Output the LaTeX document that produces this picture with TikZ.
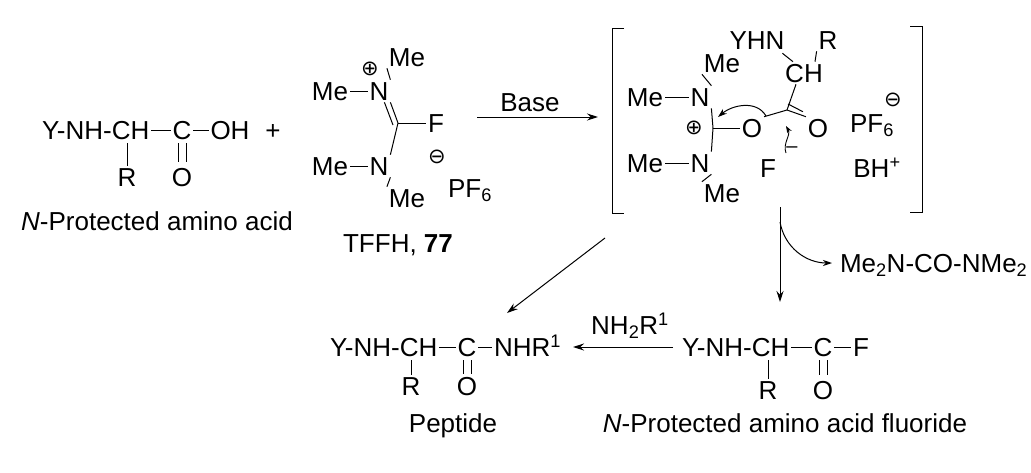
\documentclass[tikz,border=0pt]{standalone}
\usepackage{fontspec}
\setmainfont{Liberation Sans}
\newfontfamily\djv{DejaVu Sans}
\usetikzlibrary{arrows.meta}
\newcommand{\chg}[1]{{\djv\fontsize{21}{21}\selectfont #1}}
\begin{document}
\begin{tikzpicture}[x=1pt,y=-1pt,
  t/.style={inner sep=1.5pt,text height=18.6pt,text depth=0pt,font=\fontsize{26}{28}\selectfont},
  s/.style={inner sep=0pt},
  bd/.style={line width=1pt},
  ar/.style={line width=1pt,-{Stealth[length=11pt,width=7pt]}},
  sa/.style={line width=1pt,-{Stealth[length=9pt,width=6pt]}},
  line width=1pt]
\useasboundingbox (0,0) rectangle (1031,472);
% amino acid
\node[t,anchor=west] (aa) at (40,130) {Y-NH-CH};
\node[t] (aaC) at (182,130) {C};
\node[t] (aaOH) at (230,130) {OH};
\node[t] (aaR) at (127,177) {R};
\node[t] (aaO) at (182,177) {O};
\draw[bd] (aa.east) -- (aaC.west);
\draw[bd] (aaC.east) -- (aaOH.west);
\draw[bd] (127,143) -- (aaR.north);
\draw[bd] (178,143) -- (178,162) (186,143) -- (186,162);
\node[t] (plus) at (273,130) {+};
\node[t] (lab1) at (157,221) {\itshape N\upshape-Protected amino acid};
% TFFH
\node[t] (tN1) at (379,91) {N};
\node[t] (tMe1) at (330,91) {Me};
\node[t] (tMe2) at (407,57) {Me};
\node[s] (tplus) at (370,69) {\chg{⊕}};
\node[t] (tF) at (436,123) {F};
\node[t] (tN2) at (379,166) {N};
\node[t] (tMe3) at (330,166) {Me};
\node[t] (tMe4) at (407,198) {Me};
\coordinate (tC) at (398,123);
\draw[bd] (tMe1.east) -- (tN1.west);
\draw[bd] (tN1.north east) -- (tMe2.south west);
\draw[bd] (tN1.south east) -- (tC);
\draw[bd] ([xshift=-6pt]tN1.south east) -- ([xshift=-5pt,yshift=-2pt]tC);
\draw[bd] (tC) -- (tF.west);
\draw[bd] (tC) -- (tN2.north east);
\draw[bd] (tMe3.east) -- (tN2.west);
\draw[bd] (tN2.south east) -- (tMe4.north west);
\node[s] (tminus) at (437,157) {\chg{⊖}};
\node[t] (tPF) at (470,188) {PF\textsubscript{6}};
\node[t] (tname) at (398,243) {TFFH, \textbf{77}};
% Base arrow
\coordinate (a1s) at (477,117);
\coordinate (a1e) at (598,117);
\draw[ar] (a1s) -- (a1e);
\node[t] (base) at (530,102) {Base};
% brackets
\draw[bd] (624,28) -- (612,28) -- (612,213) -- (624,213);
\draw[bd] (910,26) -- (922,26) -- (922,212) -- (910,212);
% intermediate
\node[t] (iYHN) at (757,40) {YHN};
\node[t] (iR) at (828,40) {R};
\node[t] (iCH) at (804,73) {CH};
\node[t] (iMe1) at (722,63) {Me};
\node[t] (iMe2) at (645,97) {Me};
\node[t] (iN1) at (700,97) {N};
\node[s] (ip) at (694,128) {\chg{⊕}};
\coordinate (iC) at (713,128);
\node[t] (iO) at (752,128) {O};
\coordinate (iCc) at (787,110);
\node[t] (iO2) at (818,128) {O};
\node[t] (iF) at (768,168) {F};
\node[s] (iFm) at (792,150) {\fontsize{20}{20}\selectfont –};
\node[t] (iN2) at (700,163) {N};
\node[t] (iMe3) at (645,163) {Me};
\node[t] (iMe4) at (722,193) {Me};
\draw[bd] (iMe2.east) -- (iN1.west);
\draw[bd] (iN1.north east) -- (iMe1.south west);
\draw[bd] (iN1.south east) -- (iC);
\draw[bd] (iC) -- (iO.west);
\draw[bd] (iC) -- (iN2.north east);
\draw[bd] (iMe3.east) -- (iN2.west);
\draw[bd] (iN2.south east) -- (iMe4.north west);
\draw[bd] (iO.north east) -- (iCc);
\draw[bd] (iCc) -- (iO2.north west);
\draw[bd] ([xshift=1pt,yshift=6pt]iCc) -- ([xshift=-3pt,yshift=5pt]iO2.north west);
\draw[bd] (iCc) -- ([xshift=-8pt]iCH.south);
\draw[bd] ([xshift=-4pt,yshift=-2pt]iYHN.south east) -- ([xshift=-11pt]iCH.north);
\draw[bd] ([xshift=11pt]iCH.north) -- (iR.south west);
\draw[sa] (766,116) to[out=120,in=40] (718,117);
\draw[line width=0.9pt,-{Stealth[length=7pt,width=5pt]}] (786,153) to[out=110,in=-60] (786,126);
\node[t] (iPF) at (872,123) {PF\textsubscript{6}};
\node[s] (iPFm) at (893,100) {\chg{⊖}};
\node[t] (iBH) at (877,168) {BH\textsuperscript{+}};
% down arrow
\coordinate (d1) at (780,207);
\coordinate (d2) at (780,302);
\draw[ar] (d1) -- (d2);
\node[t,anchor=west] (urea) at (838,263) {Me\textsubscript{2}N-CO-NMe\textsubscript{2}};
\draw[sa] (780,222) to[out=-80,in=180] ([xshift=-6pt]urea.west);
% diagonal
\coordinate (g1) at (605,238);
\coordinate (g2) at (507,313);
\draw[ar] (g1) -- (g2);
% fluoride
\node[t,anchor=west] (fl) at (680,347) {Y-NH-CH};
\node[t] (flC) at (823,347) {C};
\node[t] (flF) at (861,347) {F};
\node[t] (flR) at (768,390) {R};
\node[t] (flO) at (823,390) {O};
\draw[bd] (fl.east) -- (flC.west);
\draw[bd] (flC.east) -- (flF.west);
\draw[bd] (768,360) -- (flR.north);
\draw[bd] (819,360) -- (819,375) (827,360) -- (827,375);
\node[t] (lab3) at (785,423) {\itshape N\upshape-Protected amino acid fluoride};
% NH2R1 arrow
\coordinate (h1) at (673,347);
\coordinate (h2) at (573,347);
\draw[ar] (h1) -- (h2);
\node[t] (nh) at (630,325) {NH\textsubscript{2}R\textsuperscript{1}};
% peptide
\node[t,anchor=west] (pp) at (328,347) {Y-NH-CH};
\node[t] (ppC) at (467,347) {C};
\node[t,anchor=west] (ppN) at (492,347) {NHR\textsuperscript{1}};
\node[t] (ppR) at (411,386) {R};
\node[t] (ppO) at (467,386) {O};
\draw[bd] (pp.east) -- (ppC.west);
\draw[bd] (ppC.east) -- (ppN.west);
\draw[bd] (411,360) -- (ppR.north);
\draw[bd] (463,360) -- (463,374) (471,360) -- (471,374);
\node[t] (lab2) at (453,423) {Peptide};
\end{tikzpicture}
\end{document}
